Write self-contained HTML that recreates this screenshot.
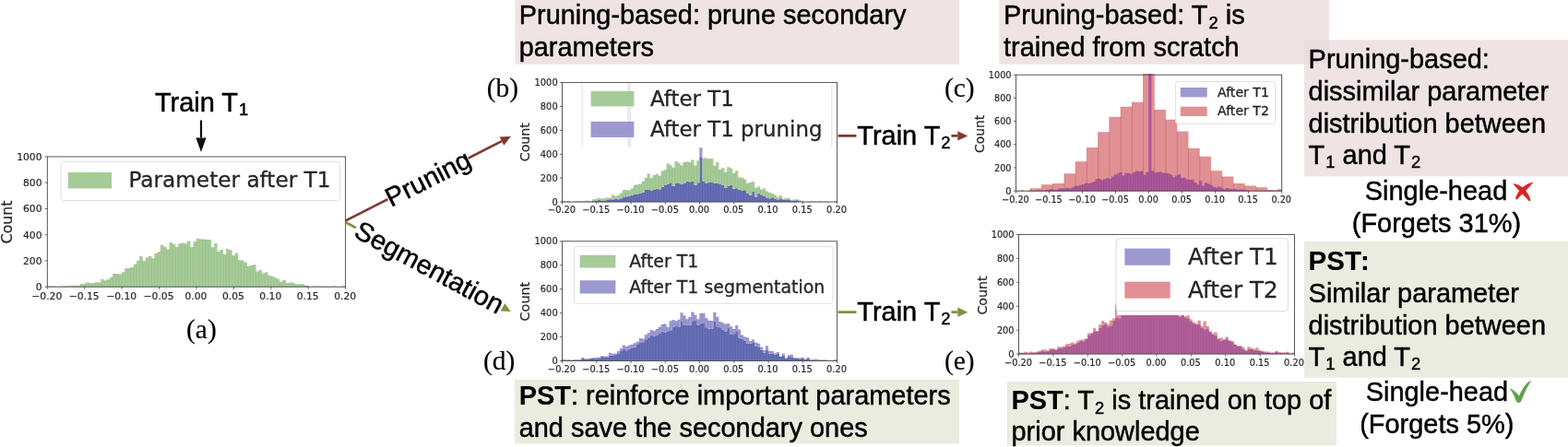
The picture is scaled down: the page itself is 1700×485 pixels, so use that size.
<!DOCTYPE html>
<html lang="en"><head><meta charset="utf-8"><title>PST vs pruning figure</title>
<style>html,body{margin:0;padding:0;background:#fff;}body{width:1700px;height:485px;overflow:hidden;}svg{display:block;}</style>
</head><body>
<svg width="1700" height="485" viewBox="0 0 1700 485">
<rect width="1700" height="485" fill="#fff"/>
<g id="chart-a">
<path d="M51.30 311.20V310.17H54.53V311.20ZM54.53 311.20V310.51H57.77V311.20ZM57.77 311.20V310.55H61.00V311.20ZM64.23 311.20V310.49H67.46V311.20ZM67.46 311.20V310.40H70.70V311.20ZM70.70 311.20V310.13H73.93V311.20ZM73.93 311.20V310.21H77.16V311.20ZM77.16 311.20V309.70H80.40V311.20ZM80.40 311.20V309.68H83.63V311.20ZM83.63 311.20V309.89H86.86V311.20ZM86.86 311.20V308.13H90.10V311.20ZM90.10 311.20V307.65H93.33V311.20ZM93.33 311.20V306.45H96.56V311.20ZM96.56 311.20V307.15H99.79V311.20ZM99.79 311.20V306.88H103.03V311.20ZM103.03 311.20V306.29H106.26V311.20ZM106.26 311.20V306.51H109.49V311.20ZM109.49 311.20V302.84H112.73V311.20ZM112.73 311.20V304.18H115.96V311.20ZM115.96 311.20V303.20H119.19V311.20ZM119.19 311.20V300.66H122.43V311.20ZM122.43 311.20V296.81H125.66V311.20ZM125.66 311.20V297.08H128.89V311.20ZM128.89 311.20V297.48H132.12V311.20ZM132.12 311.20V295.30H135.36V311.20ZM135.36 311.20V291.13H138.59V311.20ZM138.59 311.20V290.66H141.82V311.20ZM141.82 311.20V289.90H145.06V311.20ZM145.06 311.20V286.82H148.29V311.20ZM148.29 311.20V282.69H151.52V311.20ZM151.52 311.20V277.80H154.76V311.20ZM154.76 311.20V283.00H157.99V311.20ZM157.99 311.20V279.57H161.22V311.20ZM161.22 311.20V278.04H164.46V311.20ZM164.46 311.20V280.22H167.69V311.20ZM167.69 311.20V274.65H170.92V311.20ZM170.92 311.20V273.22H174.15V311.20ZM174.15 311.20V265.87H177.39V311.20ZM177.39 311.20V267.77H180.62V311.20ZM180.62 311.20V270.59H183.85V311.20ZM183.85 311.20V263.09H187.09V311.20ZM187.09 311.20V264.93H190.32V311.20ZM190.32 311.20V268.10H193.55V311.20ZM193.55 311.20V264.18H196.78V311.20ZM196.78 311.20V263.70H200.02V311.20ZM200.02 311.20V264.23H203.25V311.20ZM203.25 311.20V261.44H206.48V311.20ZM206.48 311.20V268.05H209.72V311.20ZM209.72 311.20V262.34H212.95V311.20ZM212.95 311.20V258.80H216.18V311.20ZM216.18 311.20V259.62H219.42V311.20ZM219.42 311.20V259.41H222.65V311.20ZM222.65 311.20V260.08H225.88V311.20ZM225.88 311.20V259.93H229.12V311.20ZM229.12 311.20V268.32H232.35V311.20ZM232.35 311.20V264.05H235.58V311.20ZM235.58 311.20V272.84H238.81V311.20ZM238.81 311.20V270.90H242.05V311.20ZM242.05 311.20V275.97H245.28V311.20ZM245.28 311.20V270.03H248.51V311.20ZM248.51 311.20V271.26H251.75V311.20ZM251.75 311.20V277.04H254.98V311.20ZM254.98 311.20V274.39H258.21V311.20ZM258.21 311.20V282.19H261.44V311.20ZM261.44 311.20V282.39H264.68V311.20ZM264.68 311.20V284.48H267.91V311.20ZM267.91 311.20V289.03H271.14V311.20ZM271.14 311.20V288.02H274.38V311.20ZM274.38 311.20V287.21H277.61V311.20ZM277.61 311.20V294.55H280.84V311.20ZM280.84 311.20V293.00H284.08V311.20ZM284.08 311.20V296.48H287.31V311.20ZM287.31 311.20V295.16H290.54V311.20ZM290.54 311.20V298.64H293.77V311.20ZM293.77 311.20V299.81H297.01V311.20ZM297.01 311.20V301.17H300.24V311.20ZM300.24 311.20V302.85H303.47V311.20ZM303.47 311.20V305.72H306.71V311.20ZM306.71 311.20V303.70H309.94V311.20ZM309.94 311.20V307.26H313.17V311.20ZM313.17 311.20V306.48H316.41V311.20ZM316.41 311.20V306.84H319.64V311.20ZM319.64 311.20V308.54H322.87V311.20ZM322.87 311.20V308.30H326.11V311.20ZM326.11 311.20V308.06H329.34V311.20ZM329.34 311.20V309.19H332.57V311.20ZM332.57 311.20V309.97H335.80V311.20ZM339.04 311.20V310.42H342.27V311.20ZM342.27 311.20V310.40H345.50V311.20ZM345.50 311.20V310.50H348.74V311.20ZM348.74 311.20V310.78H351.97V311.20ZM351.97 311.20V310.38H355.20V311.20ZM355.20 311.20V310.80H358.44V311.20ZM358.44 311.20V310.71H361.67V311.20ZM361.67 311.20V310.52H364.90V311.20ZM364.90 311.20V311.03H368.13V311.20ZM368.13 311.20V310.90H371.37V311.20ZM371.37 311.20V310.28H374.60V311.20Z" fill="rgb(167,203,152)"/>
<path d="M51.30 311.20V310.17M54.53 311.20V310.51M57.77 311.20V310.55M64.23 311.20V310.49M67.46 311.20V310.40M70.70 311.20V310.13M73.93 311.20V310.21M77.16 311.20V309.70M80.40 311.20V309.68M83.63 311.20V309.89M86.86 311.20V308.13M90.10 311.20V307.65M93.33 311.20V306.45M96.56 311.20V307.15M99.79 311.20V306.88M103.03 311.20V306.29M106.26 311.20V306.51M109.49 311.20V302.84M112.73 311.20V304.18M115.96 311.20V303.20M119.19 311.20V300.66M122.43 311.20V296.81M125.66 311.20V297.08M128.89 311.20V297.48M132.12 311.20V295.30M135.36 311.20V291.13M138.59 311.20V290.66M141.82 311.20V289.90M145.06 311.20V286.82M148.29 311.20V282.69M151.52 311.20V277.80M154.76 311.20V283.00M157.99 311.20V279.57M161.22 311.20V278.04M164.46 311.20V280.22M167.69 311.20V274.65M170.92 311.20V273.22M174.15 311.20V265.87M177.39 311.20V267.77M180.62 311.20V270.59M183.85 311.20V263.09M187.09 311.20V264.93M190.32 311.20V268.10M193.55 311.20V264.18M196.78 311.20V263.70M200.02 311.20V264.23M203.25 311.20V261.44M206.48 311.20V268.05M209.72 311.20V262.34M212.95 311.20V258.80M216.18 311.20V259.62M219.42 311.20V259.41M222.65 311.20V260.08M225.88 311.20V259.93M229.12 311.20V268.32M232.35 311.20V264.05M235.58 311.20V272.84M238.81 311.20V270.90M242.05 311.20V275.97M245.28 311.20V270.03M248.51 311.20V271.26M251.75 311.20V277.04M254.98 311.20V274.39M258.21 311.20V282.19M261.44 311.20V282.39M264.68 311.20V284.48M267.91 311.20V289.03M271.14 311.20V288.02M274.38 311.20V287.21M277.61 311.20V294.55M280.84 311.20V293.00M284.08 311.20V296.48M287.31 311.20V295.16M290.54 311.20V298.64M293.77 311.20V299.81M297.01 311.20V301.17M300.24 311.20V302.85M303.47 311.20V305.72M306.71 311.20V303.70M309.94 311.20V307.26M313.17 311.20V306.48M316.41 311.20V306.84M319.64 311.20V308.54M322.87 311.20V308.30M326.11 311.20V308.06M329.34 311.20V309.19M332.57 311.20V309.97M339.04 311.20V310.42M342.27 311.20V310.40M345.50 311.20V310.50M348.74 311.20V310.78M351.97 311.20V310.38M355.20 311.20V310.80M358.44 311.20V310.71M361.67 311.20V310.52M364.90 311.20V311.03M368.13 311.20V310.90M371.37 311.20V310.28" stroke="rgb(120,170,110)" stroke-opacity="0.55" stroke-width="0.5" fill="none"/>
<rect x="51.30" y="170.00" width="323.30" height="141.20" fill="none" stroke="#444" stroke-width="0.9"/>
<path d="M51.30 311.20v2.6M91.71 311.20v2.6M132.12 311.20v2.6M172.54 311.20v2.6M212.95 311.20v2.6M253.36 311.20v2.6M293.78 311.20v2.6M334.19 311.20v2.6M374.60 311.20v2.6M51.30 311.20h-2.6M51.30 282.96h-2.6M51.30 254.72h-2.6M51.30 226.48h-2.6M51.30 198.24h-2.6M51.30 170.00h-2.6" stroke="#444" stroke-width="0.8" fill="none"/>
<g font-family="'DejaVu Sans', 'Liberation Sans', sans-serif" font-size="10.75" fill="#262626" stroke="#262626" stroke-width="0.18">
<text x="50.80" y="324.60" text-anchor="middle">−0.20</text>
<text x="91.21" y="324.60" text-anchor="middle">−0.15</text>
<text x="131.62" y="324.60" text-anchor="middle">−0.10</text>
<text x="172.04" y="324.60" text-anchor="middle">−0.05</text>
<text x="212.45" y="324.60" text-anchor="middle">0.00</text>
<text x="252.86" y="324.60" text-anchor="middle">0.05</text>
<text x="293.28" y="324.60" text-anchor="middle">0.10</text>
<text x="333.69" y="324.60" text-anchor="middle">0.15</text>
<text x="374.10" y="324.60" text-anchor="middle">0.20</text>
<text x="45.50" y="315.12" text-anchor="end">0</text>
<text x="45.50" y="286.88" text-anchor="end">200</text>
<text x="45.50" y="258.64" text-anchor="end">400</text>
<text x="45.50" y="230.40" text-anchor="end">600</text>
<text x="45.50" y="202.16" text-anchor="end">800</text>
<text x="45.50" y="173.92" text-anchor="end">1000</text>
</g>
<text transform="translate(13.20 241.00) rotate(-90)" font-family="'DejaVu Sans', 'Liberation Sans', sans-serif" font-size="15.7" fill="#262626" stroke="#262626" stroke-width="0.21" text-anchor="middle">Count</text>
<rect x="66.00" y="175.60" width="302.70" height="41.90" rx="3" fill="#fff" fill-opacity="0.85" stroke="#dcdcdc" stroke-width="0.9"/>
<rect x="73.80" y="187.00" width="47.20" height="17.50" fill="rgb(167,203,152)"/>
<text x="139.40" y="203.29" font-family="'DejaVu Sans', 'Liberation Sans', sans-serif" font-size="23.2" fill="#262626" stroke="#262626" stroke-width="0.3">Parameter after T1</text>
</g>
<g id="chart-b">
<path d="M609.50 219.10V218.55H612.48V219.10ZM612.48 219.10V218.87H615.46V219.10ZM615.46 219.10V218.50H618.44V219.10ZM621.42 219.10V218.77H624.40V219.10ZM624.40 219.10V218.43H627.39V219.10ZM627.39 219.10V218.85H630.37V219.10ZM630.37 219.10V218.81H633.35V219.10ZM633.35 219.10V218.40H636.33V219.10ZM636.33 219.10V218.54H639.31V219.10ZM639.31 219.10V218.84H642.29V219.10ZM642.29 219.10V217.86H645.27V219.10ZM645.27 219.10V217.72H648.25V219.10ZM648.25 219.10V216.77H651.23V219.10ZM651.23 219.10V218.08H654.22V219.10ZM654.22 219.10V217.55H657.20V219.10ZM657.20 219.10V216.43H660.18V219.10ZM660.18 219.10V216.21H663.16V219.10ZM663.16 219.10V216.43H666.14V219.10ZM666.14 219.10V215.71H669.12V219.10ZM669.12 219.10V216.25H672.10V219.10ZM672.10 219.10V215.15H675.08V219.10ZM675.08 219.10V213.61H678.06V219.10ZM678.06 219.10V213.35H681.04V219.10ZM681.04 219.10V212.40H684.02V219.10ZM684.02 219.10V211.64H687.01V219.10ZM687.01 219.10V210.39H689.99V219.10ZM689.99 219.10V210.60H692.97V219.10ZM692.97 219.10V209.91H695.95V219.10ZM695.95 219.10V208.70H698.93V219.10ZM698.93 219.10V205.91H701.91V219.10ZM701.91 219.10V205.48H704.89V219.10ZM704.89 219.10V206.95H707.87V219.10ZM707.87 219.10V205.59H710.85V219.10ZM710.85 219.10V204.87H713.84V219.10ZM713.84 219.10V205.45H716.82V219.10ZM716.82 219.10V203.09H719.80V219.10ZM719.80 219.10V200.98H722.78V219.10ZM722.78 219.10V199.68H725.76V219.10ZM725.76 219.10V198.19H728.74V219.10ZM728.74 219.10V202.01H731.72V219.10ZM731.72 219.10V199.07H734.70V219.10ZM734.70 219.10V199.01H737.68V219.10ZM737.68 219.10V200.02H740.66V219.10ZM740.66 219.10V198.44H743.64V219.10ZM743.64 219.10V196.73H746.63V219.10ZM746.63 219.10V197.19H749.61V219.10ZM749.61 219.10V196.91H752.59V219.10ZM752.59 219.10V200.97H755.57V219.10ZM755.57 219.10V198.19H758.55V219.10ZM758.55 219.10V171.04H761.53V219.10ZM761.53 219.10V196.53H764.51V219.10ZM764.51 219.10V198.78H767.49V219.10ZM767.49 219.10V198.11H770.47V219.10ZM770.47 219.10V197.88H773.45V219.10ZM773.45 219.10V199.01H776.44V219.10ZM776.44 219.10V198.93H779.42V219.10ZM779.42 219.10V199.58H782.40V219.10ZM782.40 219.10V200.84H785.38V219.10ZM785.38 219.10V203.76H788.36V219.10ZM788.36 219.10V201.95H791.34V219.10ZM791.34 219.10V200.58H794.32V219.10ZM794.32 219.10V204.68H797.30V219.10ZM797.30 219.10V204.30H800.28V219.10ZM800.28 219.10V205.94H803.26V219.10ZM803.26 219.10V206.67H806.25V219.10ZM806.25 219.10V206.27H809.23V219.10ZM809.23 219.10V209.62H812.21V219.10ZM812.21 219.10V212.05H815.19V219.10ZM815.19 219.10V207.94H818.17V219.10ZM818.17 219.10V213.56H821.15V219.10ZM821.15 219.10V209.85H824.13V219.10ZM824.13 219.10V211.26H827.11V219.10ZM827.11 219.10V212.55H830.09V219.10ZM830.09 219.10V214.57H833.08V219.10ZM833.08 219.10V215.20H836.06V219.10ZM836.06 219.10V214.19H839.04V219.10ZM839.04 219.10V215.62H842.02V219.10ZM842.02 219.10V217.04H845.00V219.10ZM845.00 219.10V216.01H847.98V219.10ZM847.98 219.10V216.51H850.96V219.10ZM850.96 219.10V216.90H853.94V219.10ZM853.94 219.10V216.88H856.92V219.10ZM856.92 219.10V217.68H859.90V219.10ZM859.90 219.10V217.47H862.88V219.10ZM862.88 219.10V217.34H865.87V219.10ZM865.87 219.10V218.46H868.85V219.10ZM868.85 219.10V218.62H871.83V219.10ZM874.81 219.10V218.91H877.79V219.10ZM877.79 219.10V218.52H880.77V219.10ZM880.77 219.10V218.90H883.75V219.10ZM883.75 219.10V218.93H886.73V219.10ZM886.73 219.10V218.89H889.71V219.10ZM889.71 219.10V219.02H892.69V219.10ZM892.69 219.10V218.75H895.68V219.10ZM895.68 219.10V218.89H898.66V219.10ZM901.64 219.10V218.90H904.62V219.10ZM904.62 219.10V218.59H907.60V219.10Z" fill="rgb(102,111,181)"/>
<path d="M609.50 219.10V218.55M612.48 219.10V218.87M615.46 219.10V218.50M621.42 219.10V218.77M624.40 219.10V218.43M627.39 219.10V218.85M630.37 219.10V218.81M633.35 219.10V218.40M636.33 219.10V218.54M639.31 219.10V218.84M642.29 219.10V217.86M645.27 219.10V217.72M648.25 219.10V216.77M651.23 219.10V218.08M654.22 219.10V217.55M657.20 219.10V216.43M660.18 219.10V216.21M663.16 219.10V216.43M666.14 219.10V215.71M669.12 219.10V216.25M672.10 219.10V215.15M675.08 219.10V213.61M678.06 219.10V213.35M681.04 219.10V212.40M684.02 219.10V211.64M687.01 219.10V210.39M689.99 219.10V210.60M692.97 219.10V209.91M695.95 219.10V208.70M698.93 219.10V205.91M701.91 219.10V205.48M704.89 219.10V206.95M707.87 219.10V205.59M710.85 219.10V204.87M713.84 219.10V205.45M716.82 219.10V203.09M719.80 219.10V200.98M722.78 219.10V199.68M725.76 219.10V198.19M728.74 219.10V202.01M731.72 219.10V199.07M734.70 219.10V199.01M737.68 219.10V200.02M740.66 219.10V198.44M743.64 219.10V196.73M746.63 219.10V197.19M749.61 219.10V196.91M752.59 219.10V200.97M755.57 219.10V198.19M758.55 219.10V171.04M761.53 219.10V196.53M764.51 219.10V198.78M767.49 219.10V198.11M770.47 219.10V197.88M773.45 219.10V199.01M776.44 219.10V198.93M779.42 219.10V199.58M782.40 219.10V200.84M785.38 219.10V203.76M788.36 219.10V201.95M791.34 219.10V200.58M794.32 219.10V204.68M797.30 219.10V204.30M800.28 219.10V205.94M803.26 219.10V206.67M806.25 219.10V206.27M809.23 219.10V209.62M812.21 219.10V212.05M815.19 219.10V207.94M818.17 219.10V213.56M821.15 219.10V209.85M824.13 219.10V211.26M827.11 219.10V212.55M830.09 219.10V214.57M833.08 219.10V215.20M836.06 219.10V214.19M839.04 219.10V215.62M842.02 219.10V217.04M845.00 219.10V216.01M847.98 219.10V216.51M850.96 219.10V216.90M853.94 219.10V216.88M856.92 219.10V217.68M859.90 219.10V217.47M862.88 219.10V217.34M865.87 219.10V218.46M868.85 219.10V218.62M874.81 219.10V218.91M877.79 219.10V218.52M880.77 219.10V218.90M883.75 219.10V218.93M886.73 219.10V218.89M889.71 219.10V219.02M892.69 219.10V218.75M895.68 219.10V218.89M901.64 219.10V218.90M904.62 219.10V218.59" stroke="rgb(70,78,150)" stroke-opacity="0.55" stroke-width="0.5" fill="none"/>
<path d="M609.50 218.55V218.15H612.48V218.55ZM612.48 218.87V218.47H615.46V218.87ZM621.42 218.77V218.45H624.40V218.77ZM624.40 218.43V218.37H627.39V218.43ZM627.39 218.85V218.12H630.37V218.85ZM630.37 218.81V218.19H633.35V218.81ZM633.35 218.40V217.73H636.33V218.40ZM636.33 218.54V217.71H639.31V218.54ZM639.31 218.84V217.90H642.29V218.84ZM642.29 217.86V216.29H645.27V217.86ZM645.27 217.72V215.85H648.25V217.72ZM648.25 216.77V214.75H651.23V216.77ZM651.23 218.08V215.38H654.22V218.08ZM654.22 217.55V215.14H657.20V217.55ZM657.20 216.43V214.59H660.18V216.43ZM660.18 216.21V214.80H663.16V216.21ZM663.16 216.43V211.43H666.14V216.43ZM666.14 215.71V212.66H669.12V215.71ZM669.12 216.25V211.76H672.10V216.25ZM672.10 215.15V209.43H675.08V215.15ZM675.08 213.61V205.91H678.06V213.61ZM678.06 213.35V206.15H681.04V213.35ZM681.04 212.40V206.52H684.02V212.40ZM684.02 211.64V204.52H687.01V211.64ZM687.01 210.39V200.69H689.99V210.39ZM689.99 210.60V200.26H692.97V210.60ZM692.97 209.91V199.56H695.95V209.91ZM695.95 208.70V196.74H698.93V208.70ZM698.93 205.91V192.95H701.91V205.91ZM701.91 205.48V188.47H704.89V205.48ZM704.89 206.95V193.23H707.87V206.95ZM707.87 205.59V190.09H710.85V205.59ZM710.85 204.87V188.68H713.84V204.87ZM713.84 205.45V190.68H716.82V205.45ZM716.82 203.09V185.58H719.80V203.09ZM719.80 200.98V184.27H722.78V200.98ZM722.78 199.68V177.53H725.76V199.68ZM725.76 198.19V179.27H728.74V198.19ZM728.74 202.01V181.85H731.72V202.01ZM731.72 199.07V174.98H734.70V199.07ZM734.70 199.01V176.66H737.68V199.01ZM737.68 200.02V179.57H740.66V200.02ZM740.66 198.44V175.98H743.64V198.44ZM743.64 196.73V175.53H746.63V196.73ZM746.63 197.19V176.02H749.61V197.19ZM749.61 196.91V173.47H752.59V196.91ZM752.59 200.97V179.53H755.57V200.97ZM755.57 198.19V174.29H758.55V198.19ZM761.53 196.53V171.79H764.51V196.53ZM764.51 198.78V171.60H767.49V198.78ZM767.49 198.11V172.22H770.47V198.11ZM770.47 197.88V172.08H773.45V197.88ZM773.45 199.01V179.78H776.44V199.01ZM776.44 198.93V175.86H779.42V198.93ZM779.42 199.58V183.92H782.40V199.58ZM782.40 200.84V182.14H785.38V200.84ZM785.38 203.76V186.79H788.36V203.76ZM788.36 201.95V181.34H791.34V201.95ZM791.34 200.58V182.47H794.32V200.58ZM794.32 204.68V187.77H797.30V204.68ZM797.30 204.30V185.34H800.28V204.30ZM800.28 205.94V192.49H803.26V205.94ZM803.26 206.67V192.68H806.25V206.67ZM806.25 206.27V194.59H809.23V206.27ZM809.23 209.62V198.77H812.21V209.62ZM812.21 212.05V197.84H815.19V212.05ZM815.19 207.94V197.10H818.17V207.94ZM818.17 213.56V203.83H821.15V213.56ZM821.15 209.85V202.41H824.13V209.85ZM824.13 211.26V205.60H827.11V211.26ZM827.11 212.55V204.39H830.09V212.55ZM830.09 214.57V207.58H833.08V214.57ZM833.08 215.20V208.65H836.06V215.20ZM836.06 214.19V209.91H839.04V214.19ZM839.04 215.62V211.44H842.02V215.62ZM842.02 217.04V214.08H845.00V217.04ZM845.00 216.01V212.22H847.98V216.01ZM847.98 216.51V215.49H850.96V216.51ZM850.96 216.90V214.78H853.94V216.90ZM853.94 216.88V215.10H856.92V216.88ZM856.92 217.68V216.66H859.90V217.68ZM859.90 217.47V216.44H862.88V217.47ZM862.88 217.34V216.22H865.87V217.34ZM865.87 218.46V217.26H868.85V218.46ZM868.85 218.62V217.97H871.83V218.62ZM874.81 218.91V218.38H877.79V218.91ZM877.79 218.52V218.36H880.77V218.52ZM880.77 218.90V218.46H883.75V218.90ZM883.75 218.93V218.71H886.73V218.93ZM886.73 218.89V218.35H889.71V218.89ZM889.71 219.02V218.73H892.69V219.02ZM892.69 218.75V218.65H895.68V218.75ZM895.68 218.89V218.48H898.66V218.89ZM898.66 219.08V218.94H901.64V219.08ZM901.64 218.90V218.83H904.62V218.90ZM904.62 218.59V218.25H907.60V218.59Z" fill="rgb(167,203,152)"/>
<path d="M609.50 218.55V218.15M612.48 218.87V218.47M621.42 218.77V218.45M624.40 218.43V218.37M627.39 218.85V218.12M630.37 218.81V218.19M633.35 218.40V217.73M636.33 218.54V217.71M639.31 218.84V217.90M642.29 217.86V216.29M645.27 217.72V215.85M648.25 216.77V214.75M651.23 218.08V215.38M654.22 217.55V215.14M657.20 216.43V214.59M660.18 216.21V214.80M663.16 216.43V211.43M666.14 215.71V212.66M669.12 216.25V211.76M672.10 215.15V209.43M675.08 213.61V205.91M678.06 213.35V206.15M681.04 212.40V206.52M684.02 211.64V204.52M687.01 210.39V200.69M689.99 210.60V200.26M692.97 209.91V199.56M695.95 208.70V196.74M698.93 205.91V192.95M701.91 205.48V188.47M704.89 206.95V193.23M707.87 205.59V190.09M710.85 204.87V188.68M713.84 205.45V190.68M716.82 203.09V185.58M719.80 200.98V184.27M722.78 199.68V177.53M725.76 198.19V179.27M728.74 202.01V181.85M731.72 199.07V174.98M734.70 199.01V176.66M737.68 200.02V179.57M740.66 198.44V175.98M743.64 196.73V175.53M746.63 197.19V176.02M749.61 196.91V173.47M752.59 200.97V179.53M755.57 198.19V174.29M761.53 196.53V171.79M764.51 198.78V171.60M767.49 198.11V172.22M770.47 197.88V172.08M773.45 199.01V179.78M776.44 198.93V175.86M779.42 199.58V183.92M782.40 200.84V182.14M785.38 203.76V186.79M788.36 201.95V181.34M791.34 200.58V182.47M794.32 204.68V187.77M797.30 204.30V185.34M800.28 205.94V192.49M803.26 206.67V192.68M806.25 206.27V194.59M809.23 209.62V198.77M812.21 212.05V197.84M815.19 207.94V197.10M818.17 213.56V203.83M821.15 209.85V202.41M824.13 211.26V205.60M827.11 212.55V204.39M830.09 214.57V207.58M833.08 215.20V208.65M836.06 214.19V209.91M839.04 215.62V211.44M842.02 217.04V214.08M845.00 216.01V212.22M847.98 216.51V215.49M850.96 216.90V214.78M853.94 216.88V215.10M856.92 217.68V216.66M859.90 217.47V216.44M862.88 217.34V216.22M865.87 218.46V217.26M868.85 218.62V217.97M874.81 218.91V218.38M877.79 218.52V218.36M880.77 218.90V218.46M883.75 218.93V218.71M886.73 218.89V218.35M889.71 219.02V218.73M892.69 218.75V218.65M895.68 218.89V218.48M898.66 219.08V218.94M901.64 218.90V218.83M904.62 218.59V218.25" stroke="rgb(120,170,110)" stroke-opacity="0.55" stroke-width="0.5" fill="none"/>
<path d="M615.46 218.50V218.36H618.44V218.50ZM758.55 171.04V160.18H761.53V171.04Z" fill="rgb(156,153,209)"/>
<path d="M615.46 218.50V218.36M758.55 171.04V160.18" stroke="rgb(110,105,180)" stroke-opacity="0.55" stroke-width="0.5" fill="none"/>
<rect x="609.50" y="89.60" width="298.10" height="129.50" fill="none" stroke="#444" stroke-width="0.9"/>
<path d="M609.50 219.10v2.6M646.76 219.10v2.6M684.02 219.10v2.6M721.29 219.10v2.6M758.55 219.10v2.6M795.81 219.10v2.6M833.08 219.10v2.6M870.34 219.10v2.6M907.60 219.10v2.6M609.50 219.10h-2.6M609.50 193.20h-2.6M609.50 167.30h-2.6M609.50 141.40h-2.6M609.50 115.50h-2.6M609.50 89.60h-2.6" stroke="#444" stroke-width="0.8" fill="none"/>
<g font-family="'DejaVu Sans', 'Liberation Sans', sans-serif" font-size="9.9" fill="#262626" stroke="#262626" stroke-width="0.18">
<text x="609.00" y="231.20" text-anchor="middle">−0.20</text>
<text x="646.26" y="231.20" text-anchor="middle">−0.15</text>
<text x="683.52" y="231.20" text-anchor="middle">−0.10</text>
<text x="720.79" y="231.20" text-anchor="middle">−0.05</text>
<text x="758.05" y="231.20" text-anchor="middle">0.00</text>
<text x="795.31" y="231.20" text-anchor="middle">0.05</text>
<text x="832.58" y="231.20" text-anchor="middle">0.10</text>
<text x="869.84" y="231.20" text-anchor="middle">0.15</text>
<text x="907.10" y="231.20" text-anchor="middle">0.20</text>
<text x="604.70" y="222.71" text-anchor="end">0</text>
<text x="604.70" y="196.81" text-anchor="end">200</text>
<text x="604.70" y="170.91" text-anchor="end">400</text>
<text x="604.70" y="145.01" text-anchor="end">600</text>
<text x="604.70" y="119.11" text-anchor="end">800</text>
<text x="604.70" y="93.21" text-anchor="end">1000</text>
</g>
<text transform="translate(574.00 154.20) rotate(-90)" font-family="'DejaVu Sans', 'Liberation Sans', sans-serif" font-size="14.2" fill="#262626" stroke="#262626" stroke-width="0.21" text-anchor="middle">Count</text>
<rect x="630.7" y="90.2" width="271.8" height="69.5" fill="#fff" fill-opacity="0.93"/>
<rect x="679.8" y="90.2" width="4.7" height="69.5" fill="rgb(150,148,205)" fill-opacity="0.2"/>
<path d="M631.2 91V159.7M901.9 91V159.7" stroke="#e6e6ec" stroke-width="1.2" fill="none"/>
<rect x="640.60" y="98.90" width="46.80" height="16.50" fill="rgb(167,203,152)"/>
<text x="705.00" y="114.59" font-family="'DejaVu Sans', 'Liberation Sans', sans-serif" font-size="22.9" fill="#262626" stroke="#262626" stroke-width="0.3">After T1</text>
<rect x="640.60" y="131.90" width="46.80" height="17.10" fill="rgb(156,153,209)"/>
<text x="705.00" y="147.89" font-family="'DejaVu Sans', 'Liberation Sans', sans-serif" font-size="22.9" fill="#262626" stroke="#262626" stroke-width="0.3">After T1 pruning</text>
</g>
<g id="chart-d">
<path d="M609.50 391.60V390.93H612.48V391.60ZM612.48 391.60V390.83H615.46V391.60ZM615.46 391.60V390.61H618.44V391.60ZM618.44 391.60V390.84H621.42V391.60ZM621.42 391.60V390.52H624.40V391.60ZM624.40 391.60V390.62H627.39V391.60ZM627.39 391.60V390.49H630.37V391.60ZM630.37 391.60V389.10H633.35V391.60ZM633.35 391.60V390.11H636.33V391.60ZM636.33 391.60V389.56H639.31V391.60ZM639.31 391.60V389.07H642.29V391.60ZM642.29 391.60V388.98H645.27V391.60ZM645.27 391.60V389.15H648.25V391.60ZM648.25 391.60V388.71H651.23V391.60ZM651.23 391.60V386.72H654.22V391.60ZM654.22 391.60V387.29H657.20V391.60ZM657.20 391.60V387.85H660.18V391.60ZM660.18 391.60V385.63H663.16V391.60ZM663.16 391.60V385.42H666.14V391.60ZM666.14 391.60V384.70H669.12V391.60ZM669.12 391.60V384.03H672.10V391.60ZM672.10 391.60V380.27H675.08V391.60ZM675.08 391.60V378.50H678.06V391.60ZM678.06 391.60V380.17H681.04V391.60ZM681.04 391.60V378.49H684.02V391.60ZM684.02 391.60V377.22H687.01V391.60ZM687.01 391.60V376.59H689.99V391.60ZM689.99 391.60V373.90H692.97V391.60ZM692.97 391.60V371.42H695.95V391.60ZM695.95 391.60V371.22H698.93V391.60ZM698.93 391.60V368.27H701.91V391.60ZM701.91 391.60V366.29H704.89V391.60ZM704.89 391.60V363.86H707.87V391.60ZM707.87 391.60V364.43H710.85V391.60ZM710.85 391.60V363.48H713.84V391.60ZM713.84 391.60V361.58H716.82V391.60ZM716.82 391.60V359.71H719.80V391.60ZM719.80 391.60V360.78H722.78V391.60ZM722.78 391.60V359.32H725.76V391.60ZM725.76 391.60V358.16H728.74V391.60ZM728.74 391.60V354.76H731.72V391.60ZM731.72 391.60V354.06H734.70V391.60ZM734.70 391.60V354.59H737.68V391.60ZM737.68 391.60V348.83H740.66V391.60ZM740.66 391.60V352.92H743.64V391.60ZM743.64 391.60V352.71H746.63V391.60ZM746.63 391.60V352.86H749.61V391.60ZM749.61 391.60V348.23H752.59V391.60ZM752.59 391.60V347.89H755.57V391.60ZM755.57 391.60V352.57H758.55V391.60ZM758.55 391.60V350.39H761.53V391.60ZM761.53 391.60V350.23H764.51V391.60ZM764.51 391.60V355.15H767.49V391.60ZM767.49 391.60V356.55H770.47V391.60ZM770.47 391.60V356.56H773.45V391.60ZM773.45 391.60V348.52H776.44V391.60ZM776.44 391.60V354.29H779.42V391.60ZM779.42 391.60V355.29H782.40V391.60ZM782.40 391.60V357.48H785.38V391.60ZM785.38 391.60V359.38H788.36V391.60ZM788.36 391.60V355.98H791.34V391.60ZM791.34 391.60V362.92H794.32V391.60ZM794.32 391.60V362.16H797.30V391.60ZM797.30 391.60V359.93H800.28V391.60ZM800.28 391.60V366.56H803.26V391.60ZM803.26 391.60V367.73H806.25V391.60ZM806.25 391.60V369.78H809.23V391.60ZM809.23 391.60V372.79H812.21V391.60ZM812.21 391.60V372.77H815.19V391.60ZM815.19 391.60V372.05H818.17V391.60ZM818.17 391.60V375.95H821.15V391.60ZM821.15 391.60V376.89H824.13V391.60ZM824.13 391.60V380.00H827.11V391.60ZM827.11 391.60V382.65H830.09V391.60ZM830.09 391.60V379.66H833.08V391.60ZM833.08 391.60V383.70H836.06V391.60ZM836.06 391.60V383.64H839.04V391.60ZM839.04 391.60V384.44H842.02V391.60ZM842.02 391.60V383.51H845.00V391.60ZM845.00 391.60V386.89H847.98V391.60ZM847.98 391.60V385.76H850.96V391.60ZM850.96 391.60V388.63H853.94V391.60ZM853.94 391.60V387.09H856.92V391.60ZM856.92 391.60V387.37H859.90V391.60ZM859.90 391.60V388.41H862.88V391.60ZM862.88 391.60V388.74H865.87V391.60ZM865.87 391.60V389.17H868.85V391.60ZM868.85 391.60V389.05H871.83V391.60ZM871.83 391.60V390.10H874.81V391.60ZM874.81 391.60V388.76H877.79V391.60ZM877.79 391.60V390.41H880.77V391.60ZM880.77 391.60V390.40H883.75V391.60ZM883.75 391.60V390.56H886.73V391.60ZM886.73 391.60V390.60H889.71V391.60ZM889.71 391.60V390.96H892.69V391.60ZM892.69 391.60V390.90H895.68V391.60ZM895.68 391.60V391.45H898.66V391.60ZM901.64 391.60V391.41H904.62V391.60ZM904.62 391.60V390.93H907.60V391.60Z" fill="rgb(102,111,181)"/>
<path d="M609.50 391.60V390.93M612.48 391.60V390.83M615.46 391.60V390.61M618.44 391.60V390.84M621.42 391.60V390.52M624.40 391.60V390.62M627.39 391.60V390.49M630.37 391.60V389.10M633.35 391.60V390.11M636.33 391.60V389.56M639.31 391.60V389.07M642.29 391.60V388.98M645.27 391.60V389.15M648.25 391.60V388.71M651.23 391.60V386.72M654.22 391.60V387.29M657.20 391.60V387.85M660.18 391.60V385.63M663.16 391.60V385.42M666.14 391.60V384.70M669.12 391.60V384.03M672.10 391.60V380.27M675.08 391.60V378.50M678.06 391.60V380.17M681.04 391.60V378.49M684.02 391.60V377.22M687.01 391.60V376.59M689.99 391.60V373.90M692.97 391.60V371.42M695.95 391.60V371.22M698.93 391.60V368.27M701.91 391.60V366.29M704.89 391.60V363.86M707.87 391.60V364.43M710.85 391.60V363.48M713.84 391.60V361.58M716.82 391.60V359.71M719.80 391.60V360.78M722.78 391.60V359.32M725.76 391.60V358.16M728.74 391.60V354.76M731.72 391.60V354.06M734.70 391.60V354.59M737.68 391.60V348.83M740.66 391.60V352.92M743.64 391.60V352.71M746.63 391.60V352.86M749.61 391.60V348.23M752.59 391.60V347.89M755.57 391.60V352.57M758.55 391.60V350.39M761.53 391.60V350.23M764.51 391.60V355.15M767.49 391.60V356.55M770.47 391.60V356.56M773.45 391.60V348.52M776.44 391.60V354.29M779.42 391.60V355.29M782.40 391.60V357.48M785.38 391.60V359.38M788.36 391.60V355.98M791.34 391.60V362.92M794.32 391.60V362.16M797.30 391.60V359.93M800.28 391.60V366.56M803.26 391.60V367.73M806.25 391.60V369.78M809.23 391.60V372.79M812.21 391.60V372.77M815.19 391.60V372.05M818.17 391.60V375.95M821.15 391.60V376.89M824.13 391.60V380.00M827.11 391.60V382.65M830.09 391.60V379.66M833.08 391.60V383.70M836.06 391.60V383.64M839.04 391.60V384.44M842.02 391.60V383.51M845.00 391.60V386.89M847.98 391.60V385.76M850.96 391.60V388.63M853.94 391.60V387.09M856.92 391.60V387.37M859.90 391.60V388.41M862.88 391.60V388.74M865.87 391.60V389.17M868.85 391.60V389.05M871.83 391.60V390.10M874.81 391.60V388.76M877.79 391.60V390.41M880.77 391.60V390.40M883.75 391.60V390.56M886.73 391.60V390.60M889.71 391.60V390.96M892.69 391.60V390.90M895.68 391.60V391.45M901.64 391.60V391.41M904.62 391.60V390.93" stroke="rgb(70,78,150)" stroke-opacity="0.55" stroke-width="0.5" fill="none"/>
<path d="" fill="rgb(167,203,152)"/>
<path d="" stroke="rgb(120,170,110)" stroke-opacity="0.55" stroke-width="0.5" fill="none"/>
<path d="M609.50 390.93V389.83H612.48V390.93ZM612.48 390.83V390.38H615.46V390.83ZM615.46 390.61V390.19H618.44V390.61ZM621.42 390.52V389.90H624.40V390.52ZM624.40 390.62V390.14H627.39V390.62ZM627.39 390.49V390.08H630.37V390.49ZM630.37 389.10V388.02H633.35V389.10ZM633.35 390.11V389.22H636.33V390.11ZM636.33 389.56V389.27H639.31V389.56ZM639.31 389.07V388.63H642.29V389.07ZM642.29 388.98V388.30H645.27V388.98ZM645.27 389.15V387.88H648.25V389.15ZM648.25 388.71V387.40H651.23V388.71ZM651.23 386.72V386.25H654.22V386.72ZM654.22 387.29V386.77H657.20V387.29ZM657.20 387.85V386.19H660.18V387.85ZM660.18 385.63V382.73H663.16V385.63ZM663.16 385.42V383.76H666.14V385.42ZM666.14 384.70V383.45H669.12V384.70ZM669.12 384.03V381.07H672.10V384.03ZM672.10 380.27V377.84H675.08V380.27ZM675.08 378.50V374.52H678.06V378.50ZM678.06 380.17V375.69H681.04V380.17ZM681.04 378.49V374.62H684.02V378.49ZM684.02 377.22V373.72H687.01V377.22ZM687.01 376.59V372.13H689.99V376.59ZM689.99 373.90V370.66H692.97V373.90ZM692.97 371.42V367.05H695.95V371.42ZM695.95 371.22V367.38H698.93V371.22ZM698.93 368.27V363.30H701.91V368.27ZM701.91 366.29V361.37H704.89V366.29ZM704.89 363.86V357.96H707.87V363.86ZM707.87 364.43V358.96H710.85V364.43ZM710.85 363.48V357.03H713.84V363.48ZM713.84 361.58V354.77H716.82V361.58ZM716.82 359.71V352.10H719.80V359.71ZM719.80 360.78V351.43H722.78V360.78ZM722.78 359.32V354.95H725.76V359.32ZM725.76 358.16V348.36H728.74V358.16ZM728.74 354.76V347.09H731.72V354.76ZM731.72 354.06V348.20H734.70V354.06ZM734.70 354.59V346.76H737.68V354.59ZM737.68 348.83V339.27H740.66V348.83ZM740.66 352.92V342.30H743.64V352.92ZM743.64 352.71V346.27H746.63V352.71ZM746.63 352.86V343.90H749.61V352.86ZM749.61 348.23V338.48H752.59V348.23ZM752.59 347.89V341.87H755.57V347.89ZM755.57 352.57V346.34H758.55V352.57ZM758.55 350.39V340.12H761.53V350.39ZM761.53 350.23V339.72H764.51V350.23ZM764.51 355.15V345.01H767.49V355.15ZM767.49 356.55V347.80H770.47V356.55ZM770.47 356.56V348.06H773.45V356.56ZM773.45 348.52V338.83H776.44V348.52ZM776.44 354.29V343.71H779.42V354.29ZM779.42 355.29V348.90H782.40V355.29ZM782.40 357.48V350.19H785.38V357.48ZM785.38 359.38V351.52H788.36V359.38ZM788.36 355.98V351.11H791.34V355.98ZM791.34 362.92V354.27H794.32V362.92ZM794.32 362.16V356.96H797.30V362.16ZM797.30 359.93V353.02H800.28V359.93ZM800.28 366.56V357.47H803.26V366.56ZM803.26 367.73V363.62H806.25V367.73ZM806.25 369.78V365.60H809.23V369.78ZM809.23 372.79V366.28H812.21V372.79ZM812.21 372.77V369.92H815.19V372.77ZM815.19 372.05V368.16H818.17V372.05ZM818.17 375.95V371.62H821.15V375.95ZM821.15 376.89V372.85H824.13V376.89ZM824.13 380.00V376.52H827.11V380.00ZM827.11 382.65V380.02H830.09V382.65ZM830.09 379.66V375.27H833.08V379.66ZM833.08 383.70V380.73H836.06V383.70ZM836.06 383.64V381.03H839.04V383.64ZM839.04 384.44V383.14H842.02V384.44ZM842.02 383.51V382.08H845.00V383.51ZM845.00 386.89V386.79H847.98V386.89ZM847.98 385.76V383.60H850.96V385.76ZM850.96 388.63V388.57H853.94V388.63ZM853.94 387.09V385.14H856.92V387.09ZM856.92 387.37V384.83H859.90V387.37ZM859.90 388.41V387.98H862.88V388.41ZM862.88 388.74V388.14H865.87V388.74ZM865.87 389.17V388.52H868.85V389.17ZM868.85 389.05V387.67H871.83V389.05ZM871.83 390.10V389.77H874.81V390.10ZM874.81 388.76V387.85H877.79V388.76ZM877.79 390.41V389.98H880.77V390.41ZM880.77 390.40V389.86H883.75V390.40ZM883.75 390.56V389.46H886.73V390.56ZM886.73 390.60V390.36H889.71V390.60ZM889.71 390.96V390.41H892.69V390.96ZM892.69 390.90V390.27H895.68V390.90ZM895.68 391.45V390.84H898.66V391.45ZM898.66 391.60V391.46H901.64V391.60ZM901.64 391.41V390.71H904.62V391.41ZM904.62 390.93V390.26H907.60V390.93Z" fill="rgb(156,153,209)"/>
<path d="M609.50 390.93V389.83M612.48 390.83V390.38M615.46 390.61V390.19M621.42 390.52V389.90M624.40 390.62V390.14M627.39 390.49V390.08M630.37 389.10V388.02M633.35 390.11V389.22M636.33 389.56V389.27M639.31 389.07V388.63M642.29 388.98V388.30M645.27 389.15V387.88M648.25 388.71V387.40M651.23 386.72V386.25M654.22 387.29V386.77M657.20 387.85V386.19M660.18 385.63V382.73M663.16 385.42V383.76M666.14 384.70V383.45M669.12 384.03V381.07M672.10 380.27V377.84M675.08 378.50V374.52M678.06 380.17V375.69M681.04 378.49V374.62M684.02 377.22V373.72M687.01 376.59V372.13M689.99 373.90V370.66M692.97 371.42V367.05M695.95 371.22V367.38M698.93 368.27V363.30M701.91 366.29V361.37M704.89 363.86V357.96M707.87 364.43V358.96M710.85 363.48V357.03M713.84 361.58V354.77M716.82 359.71V352.10M719.80 360.78V351.43M722.78 359.32V354.95M725.76 358.16V348.36M728.74 354.76V347.09M731.72 354.06V348.20M734.70 354.59V346.76M737.68 348.83V339.27M740.66 352.92V342.30M743.64 352.71V346.27M746.63 352.86V343.90M749.61 348.23V338.48M752.59 347.89V341.87M755.57 352.57V346.34M758.55 350.39V340.12M761.53 350.23V339.72M764.51 355.15V345.01M767.49 356.55V347.80M770.47 356.56V348.06M773.45 348.52V338.83M776.44 354.29V343.71M779.42 355.29V348.90M782.40 357.48V350.19M785.38 359.38V351.52M788.36 355.98V351.11M791.34 362.92V354.27M794.32 362.16V356.96M797.30 359.93V353.02M800.28 366.56V357.47M803.26 367.73V363.62M806.25 369.78V365.60M809.23 372.79V366.28M812.21 372.77V369.92M815.19 372.05V368.16M818.17 375.95V371.62M821.15 376.89V372.85M824.13 380.00V376.52M827.11 382.65V380.02M830.09 379.66V375.27M833.08 383.70V380.73M836.06 383.64V381.03M839.04 384.44V383.14M842.02 383.51V382.08M845.00 386.89V386.79M847.98 385.76V383.60M850.96 388.63V388.57M853.94 387.09V385.14M856.92 387.37V384.83M859.90 388.41V387.98M862.88 388.74V388.14M865.87 389.17V388.52M868.85 389.05V387.67M871.83 390.10V389.77M874.81 388.76V387.85M877.79 390.41V389.98M880.77 390.40V389.86M883.75 390.56V389.46M886.73 390.60V390.36M889.71 390.96V390.41M892.69 390.90V390.27M895.68 391.45V390.84M898.66 391.60V391.46M901.64 391.41V390.71M904.62 390.93V390.26" stroke="rgb(110,105,180)" stroke-opacity="0.55" stroke-width="0.5" fill="none"/>
<rect x="609.50" y="261.80" width="298.10" height="129.80" fill="none" stroke="#444" stroke-width="0.9"/>
<path d="M609.50 391.60v2.6M646.76 391.60v2.6M684.02 391.60v2.6M721.29 391.60v2.6M758.55 391.60v2.6M795.81 391.60v2.6M833.08 391.60v2.6M870.34 391.60v2.6M907.60 391.60v2.6M609.50 391.60h-2.6M609.50 365.64h-2.6M609.50 339.68h-2.6M609.50 313.72h-2.6M609.50 287.76h-2.6M609.50 261.80h-2.6" stroke="#444" stroke-width="0.8" fill="none"/>
<g font-family="'DejaVu Sans', 'Liberation Sans', sans-serif" font-size="9.9" fill="#262626" stroke="#262626" stroke-width="0.18">
<text x="609.00" y="404.00" text-anchor="middle">−0.20</text>
<text x="646.26" y="404.00" text-anchor="middle">−0.15</text>
<text x="683.52" y="404.00" text-anchor="middle">−0.10</text>
<text x="720.79" y="404.00" text-anchor="middle">−0.05</text>
<text x="758.05" y="404.00" text-anchor="middle">0.00</text>
<text x="795.31" y="404.00" text-anchor="middle">0.05</text>
<text x="832.58" y="404.00" text-anchor="middle">0.10</text>
<text x="869.84" y="404.00" text-anchor="middle">0.15</text>
<text x="907.10" y="404.00" text-anchor="middle">0.20</text>
<text x="604.70" y="395.21" text-anchor="end">0</text>
<text x="604.70" y="369.25" text-anchor="end">200</text>
<text x="604.70" y="343.29" text-anchor="end">400</text>
<text x="604.70" y="317.33" text-anchor="end">600</text>
<text x="604.70" y="291.37" text-anchor="end">800</text>
<text x="604.70" y="265.41" text-anchor="end">1000</text>
</g>
<text transform="translate(574.00 327.10) rotate(-90)" font-family="'DejaVu Sans', 'Liberation Sans', sans-serif" font-size="14.4" fill="#262626" stroke="#262626" stroke-width="0.21" text-anchor="middle">Count</text>
<rect x="622.50" y="267.50" width="280.50" height="61.90" rx="3" fill="#fff" fill-opacity="0.85" stroke="#dcdcdc" stroke-width="0.9"/>
<rect x="628.70" y="276.80" width="38.70" height="13.80" fill="rgb(167,203,152)"/>
<text x="682.30" y="289.86" font-family="'DejaVu Sans', 'Liberation Sans', sans-serif" font-size="18.95" fill="#262626" stroke="#262626" stroke-width="0.3">After T1</text>
<rect x="628.70" y="304.20" width="38.70" height="14.30" fill="rgb(156,153,209)"/>
<text x="682.30" y="317.51" font-family="'DejaVu Sans', 'Liberation Sans', sans-serif" font-size="18.95" fill="#262626" stroke="#262626" stroke-width="0.3">After T1 segmentation</text>
</g>
<g id="chart-c">
<path d="M1117.26 207.20V204.30H1129.49V207.20ZM1129.49 207.20V200.14H1141.72V207.20ZM1141.72 207.20V198.88H1153.95V207.20ZM1153.95 207.20V188.30H1166.18V207.20ZM1166.18 207.20V175.32H1178.41V207.20ZM1178.41 207.20V159.95H1190.64V207.20ZM1190.64 207.20V143.32H1202.87V207.20ZM1202.87 207.20V126.69H1215.11V207.20ZM1215.11 207.20V115.85H1227.34V207.20ZM1227.34 207.20V110.68H1239.57V207.20ZM1239.57 207.20V80.00H1251.80V207.20ZM1251.80 207.20V119.00H1264.03V207.20ZM1264.03 207.20V129.71H1276.26V207.20ZM1276.26 207.20V142.44H1288.49V207.20ZM1288.49 207.20V160.71H1300.72V207.20ZM1300.72 207.20V169.65H1312.95V207.20ZM1312.95 207.20V185.28H1325.19V207.20ZM1325.19 207.20V191.45H1337.42V207.20ZM1337.42 207.20V198.88H1349.65V207.20ZM1349.65 207.20V201.40H1361.88V207.20ZM1361.88 207.20V203.29H1374.11V207.20ZM1374.11 207.20V205.94H1386.34V207.20ZM1386.34 207.20V204.93H1389.70V207.20Z" fill="rgb(225,144,148)"/>
<path d="M1117.26 207.20V204.30M1129.49 207.20V200.14M1141.72 207.20V198.88M1153.95 207.20V188.30M1166.18 207.20V175.32M1178.41 207.20V159.95M1190.64 207.20V143.32M1202.87 207.20V126.69M1215.11 207.20V115.85M1227.34 207.20V110.68M1239.57 207.20V80.00M1251.80 207.20V119.00M1264.03 207.20V129.71M1276.26 207.20V142.44M1288.49 207.20V160.71M1300.72 207.20V169.65M1312.95 207.20V185.28M1325.19 207.20V191.45M1337.42 207.20V198.88M1349.65 207.20V201.40M1361.88 207.20V203.29M1374.11 207.20V205.94M1386.34 207.20V204.93" stroke="rgb(190,105,112)" stroke-opacity="0.7" stroke-width="0.8" fill="none"/>
<path d="M1101.40 207.20V206.67H1104.28V207.20ZM1104.28 207.20V206.97H1107.17V207.20ZM1107.17 207.20V206.48H1110.05V207.20ZM1112.93 207.20V206.88H1115.82V207.20ZM1115.82 207.20V206.55H1118.70V207.20ZM1118.70 207.20V206.96H1121.58V207.20ZM1121.58 207.20V206.91H1124.46V207.20ZM1124.46 207.20V206.52H1127.35V207.20ZM1127.35 207.20V206.65H1130.23V207.20ZM1130.23 207.20V206.95H1133.11V207.20ZM1133.11 207.20V205.99H1136.00V207.20ZM1136.00 207.20V205.85H1138.88V207.20ZM1138.88 207.20V204.93H1141.76V207.20ZM1141.76 207.20V206.21H1144.64V207.20ZM1144.64 207.20V205.70H1147.53V207.20ZM1147.53 207.20V204.60H1150.41V207.20ZM1150.41 207.20V204.39H1153.29V207.20ZM1153.29 207.20V204.60H1156.18V207.20ZM1156.18 207.20V203.90H1159.06V207.20ZM1159.06 207.20V204.42H1161.94V207.20ZM1161.94 207.20V203.36H1164.83V207.20ZM1164.83 207.20V201.85H1167.71V207.20ZM1167.71 207.20V201.61H1170.59V207.20ZM1170.59 207.20V200.68H1173.48V207.20ZM1173.48 207.20V199.94H1176.36V207.20ZM1176.36 207.20V198.73H1179.24V207.20ZM1179.24 207.20V198.93H1182.12V207.20ZM1182.12 207.20V198.26H1185.01V207.20ZM1185.01 207.20V197.09H1187.89V207.20ZM1187.89 207.20V194.36H1190.77V207.20ZM1190.77 207.20V193.95H1193.66V207.20ZM1193.66 207.20V195.38H1196.54V207.20ZM1196.54 207.20V194.05H1199.42V207.20ZM1199.42 207.20V193.35H1202.31V207.20ZM1202.31 207.20V193.92H1205.19V207.20ZM1205.19 207.20V191.62H1208.07V207.20ZM1208.07 207.20V189.57H1210.95V207.20ZM1210.95 207.20V188.31H1213.84V207.20ZM1213.84 207.20V186.85H1216.72V207.20ZM1216.72 207.20V190.57H1219.60V207.20ZM1219.60 207.20V187.71H1222.49V207.20ZM1222.49 207.20V187.65H1225.37V207.20ZM1225.37 207.20V188.64H1228.25V207.20ZM1228.25 207.20V187.10H1231.13V207.20ZM1231.13 207.20V185.43H1234.02V207.20ZM1234.02 207.20V185.88H1236.90V207.20ZM1236.90 207.20V185.61H1239.78V207.20ZM1239.78 207.20V189.56H1242.67V207.20ZM1242.67 207.20V186.85H1245.55V207.20ZM1245.55 207.20V80.00H1248.43V207.20ZM1248.43 207.20V185.24H1251.32V207.20ZM1251.32 207.20V187.43H1254.20V207.20ZM1254.20 207.20V186.78H1257.08V207.20ZM1257.08 207.20V186.55H1259.97V207.20ZM1259.97 207.20V187.65H1262.85V207.20ZM1262.85 207.20V187.58H1265.73V207.20ZM1265.73 207.20V188.21H1268.61V207.20ZM1268.61 207.20V189.43H1271.50V207.20ZM1271.50 207.20V192.27H1274.38V207.20ZM1274.38 207.20V190.51H1277.26V207.20ZM1277.26 207.20V189.18H1280.15V207.20ZM1280.15 207.20V193.17H1283.03V207.20ZM1283.03 207.20V192.80H1285.91V207.20ZM1285.91 207.20V194.40H1288.80V207.20ZM1288.80 207.20V195.10H1291.68V207.20ZM1291.68 207.20V194.72H1294.56V207.20ZM1294.56 207.20V197.98H1297.44V207.20ZM1297.44 207.20V200.34H1300.33V207.20ZM1300.33 207.20V196.34H1303.21V207.20ZM1303.21 207.20V201.81H1306.09V207.20ZM1306.09 207.20V198.20H1308.98V207.20ZM1308.98 207.20V199.57H1311.86V207.20ZM1311.86 207.20V200.83H1314.74V207.20ZM1314.74 207.20V202.79H1317.62V207.20ZM1317.62 207.20V203.40H1320.51V207.20ZM1320.51 207.20V202.42H1323.39V207.20ZM1323.39 207.20V203.82H1326.27V207.20ZM1326.27 207.20V205.20H1329.16V207.20ZM1329.16 207.20V204.19H1332.04V207.20ZM1332.04 207.20V204.68H1334.92V207.20ZM1334.92 207.20V205.06H1337.81V207.20ZM1337.81 207.20V205.04H1340.69V207.20ZM1340.69 207.20V205.82H1343.57V207.20ZM1343.57 207.20V205.61H1346.45V207.20ZM1346.45 207.20V205.49H1349.34V207.20ZM1349.34 207.20V206.57H1352.22V207.20ZM1352.22 207.20V206.74H1355.10V207.20ZM1357.99 207.20V207.01H1360.87V207.20ZM1360.87 207.20V206.63H1363.75V207.20ZM1363.75 207.20V207.00H1366.64V207.20ZM1366.64 207.20V207.04H1369.52V207.20ZM1369.52 207.20V207.00H1372.40V207.20ZM1372.40 207.20V207.12H1375.29V207.20ZM1375.29 207.20V206.86H1378.17V207.20ZM1378.17 207.20V207.00H1381.05V207.20ZM1383.93 207.20V207.01H1386.82V207.20ZM1386.82 207.20V206.71H1389.70V207.20Z" fill="rgb(169,87,150)"/>
<path d="M1101.40 207.20V206.67M1104.28 207.20V206.97M1107.17 207.20V206.48M1112.93 207.20V206.88M1115.82 207.20V206.55M1118.70 207.20V206.96M1121.58 207.20V206.91M1124.46 207.20V206.52M1127.35 207.20V206.65M1130.23 207.20V206.95M1133.11 207.20V205.99M1136.00 207.20V205.85M1138.88 207.20V204.93M1141.76 207.20V206.21M1144.64 207.20V205.70M1147.53 207.20V204.60M1150.41 207.20V204.39M1153.29 207.20V204.60M1156.18 207.20V203.90M1159.06 207.20V204.42M1161.94 207.20V203.36M1164.83 207.20V201.85M1167.71 207.20V201.61M1170.59 207.20V200.68M1173.48 207.20V199.94M1176.36 207.20V198.73M1179.24 207.20V198.93M1182.12 207.20V198.26M1185.01 207.20V197.09M1187.89 207.20V194.36M1190.77 207.20V193.95M1193.66 207.20V195.38M1196.54 207.20V194.05M1199.42 207.20V193.35M1202.31 207.20V193.92M1205.19 207.20V191.62M1208.07 207.20V189.57M1210.95 207.20V188.31M1213.84 207.20V186.85M1216.72 207.20V190.57M1219.60 207.20V187.71M1222.49 207.20V187.65M1225.37 207.20V188.64M1228.25 207.20V187.10M1231.13 207.20V185.43M1234.02 207.20V185.88M1236.90 207.20V185.61M1239.78 207.20V189.56M1242.67 207.20V186.85M1245.55 207.20V80.00M1248.43 207.20V185.24M1251.32 207.20V187.43M1254.20 207.20V186.78M1257.08 207.20V186.55M1259.97 207.20V187.65M1262.85 207.20V187.58M1265.73 207.20V188.21M1268.61 207.20V189.43M1271.50 207.20V192.27M1274.38 207.20V190.51M1277.26 207.20V189.18M1280.15 207.20V193.17M1283.03 207.20V192.80M1285.91 207.20V194.40M1288.80 207.20V195.10M1291.68 207.20V194.72M1294.56 207.20V197.98M1297.44 207.20V200.34M1300.33 207.20V196.34M1303.21 207.20V201.81M1306.09 207.20V198.20M1308.98 207.20V199.57M1311.86 207.20V200.83M1314.74 207.20V202.79M1317.62 207.20V203.40M1320.51 207.20V202.42M1323.39 207.20V203.82M1326.27 207.20V205.20M1329.16 207.20V204.19M1332.04 207.20V204.68M1334.92 207.20V205.06M1337.81 207.20V205.04M1340.69 207.20V205.82M1343.57 207.20V205.61M1346.45 207.20V205.49M1349.34 207.20V206.57M1352.22 207.20V206.74M1357.99 207.20V207.01M1360.87 207.20V206.63M1363.75 207.20V207.00M1366.64 207.20V207.04M1369.52 207.20V207.00M1372.40 207.20V207.12M1375.29 207.20V206.86M1378.17 207.20V207.00M1383.93 207.20V207.01M1386.82 207.20V206.71" stroke="rgb(135,60,120)" stroke-opacity="0.55" stroke-width="0.5" fill="none"/>
<rect x="1101.40" y="81.20" width="288.30" height="126.00" fill="none" stroke="#444" stroke-width="0.9"/>
<path d="M1101.40 207.20v2.6M1137.44 207.20v2.6M1173.48 207.20v2.6M1209.51 207.20v2.6M1245.55 207.20v2.6M1281.59 207.20v2.6M1317.62 207.20v2.6M1353.66 207.20v2.6M1389.70 207.20v2.6M1101.40 207.20h-2.6M1101.40 182.00h-2.6M1101.40 156.80h-2.6M1101.40 131.60h-2.6M1101.40 106.40h-2.6M1101.40 81.20h-2.6" stroke="#444" stroke-width="0.8" fill="none"/>
<g font-family="'DejaVu Sans', 'Liberation Sans', sans-serif" font-size="9.7" fill="#262626" stroke="#262626" stroke-width="0.18">
<text x="1100.90" y="219.60" text-anchor="middle">−0.20</text>
<text x="1136.94" y="219.60" text-anchor="middle">−0.15</text>
<text x="1172.98" y="219.60" text-anchor="middle">−0.10</text>
<text x="1209.01" y="219.60" text-anchor="middle">−0.05</text>
<text x="1245.05" y="219.60" text-anchor="middle">0.00</text>
<text x="1281.09" y="219.60" text-anchor="middle">0.05</text>
<text x="1317.12" y="219.60" text-anchor="middle">0.10</text>
<text x="1353.16" y="219.60" text-anchor="middle">0.15</text>
<text x="1389.20" y="219.60" text-anchor="middle">0.20</text>
<text x="1096.50" y="210.74" text-anchor="end">0</text>
<text x="1096.50" y="185.54" text-anchor="end">200</text>
<text x="1096.50" y="160.34" text-anchor="end">400</text>
<text x="1096.50" y="135.14" text-anchor="end">600</text>
<text x="1096.50" y="109.94" text-anchor="end">800</text>
<text x="1096.50" y="84.74" text-anchor="end">1000</text>
</g>
<text transform="translate(1067.40 145.40) rotate(-90)" font-family="'DejaVu Sans', 'Liberation Sans', sans-serif" font-size="13.8" fill="#262626" stroke="#262626" stroke-width="0.21" text-anchor="middle">Count</text>
<rect x="1274.60" y="88.50" width="107.90" height="45.70" rx="2.5" fill="#fff" fill-opacity="0.85" stroke="#dcdcdc" stroke-width="0.9"/>
<rect x="1279.80" y="95.00" width="28.90" height="10.40" fill="rgb(156,153,209)"/>
<text x="1320.00" y="104.78" font-family="'DejaVu Sans', 'Liberation Sans', sans-serif" font-size="14.1" fill="#262626" stroke="#262626" stroke-width="0.3">After T1</text>
<rect x="1279.80" y="115.70" width="28.90" height="10.30" fill="rgb(225,144,148)"/>
<text x="1320.00" y="125.43" font-family="'DejaVu Sans', 'Liberation Sans', sans-serif" font-size="14.1" fill="#262626" stroke="#262626" stroke-width="0.3">After T2</text>
</g>
<g id="chart-e">
<path d="M1104.50 384.10V383.10H1107.49V384.10ZM1107.49 384.10V383.02H1110.48V384.10ZM1110.48 384.10V382.47H1113.47V384.10ZM1113.47 384.10V383.20H1116.46V384.10ZM1116.46 384.10V382.23H1119.45V384.10ZM1119.45 384.10V383.09H1122.44V384.10ZM1122.44 384.10V382.20H1125.43V384.10ZM1125.43 384.10V381.95H1128.42V384.10ZM1128.42 384.10V380.92H1131.41V384.10ZM1131.41 384.10V381.15H1134.40V384.10ZM1134.40 384.10V381.08H1137.39V384.10ZM1137.39 384.10V379.33H1140.38V384.10ZM1140.38 384.10V378.54H1143.37V384.10ZM1143.37 384.10V379.51H1146.36V384.10ZM1146.36 384.10V377.74H1149.35V384.10ZM1149.35 384.10V377.85H1152.34V384.10ZM1152.34 384.10V376.42H1155.33V384.10ZM1155.33 384.10V375.32H1158.32V384.10ZM1158.32 384.10V375.76H1161.31V384.10ZM1161.31 384.10V373.21H1164.30V384.10ZM1164.30 384.10V373.19H1167.29V384.10ZM1167.29 384.10V371.78H1170.28V384.10ZM1170.28 384.10V369.70H1173.27V384.10ZM1173.27 384.10V370.18H1176.26V384.10ZM1176.26 384.10V367.97H1179.25V384.10ZM1179.25 384.10V363.88H1182.24V384.10ZM1182.24 384.10V361.49H1185.23V384.10ZM1185.23 384.10V359.32H1188.22V384.10ZM1188.22 384.10V359.59H1191.21V384.10ZM1191.21 384.10V355.82H1194.20V384.10ZM1194.20 384.10V352.43H1197.19V384.10ZM1197.19 384.10V351.23H1200.18V384.10ZM1200.18 384.10V354.14H1203.17V384.10ZM1203.17 384.10V353.17H1206.16V384.10ZM1206.16 384.10V347.43H1209.15V384.10ZM1209.15 384.10V344.18H1212.14V384.10ZM1212.14 384.10V345.23H1215.13V384.10ZM1215.13 384.10V341.87H1218.12V384.10ZM1218.12 384.10V342.09H1221.11V384.10ZM1221.11 384.10V341.02H1224.10V384.10ZM1224.10 384.10V339.89H1227.09V384.10ZM1227.09 384.10V339.22H1230.08V384.10ZM1230.08 384.10V339.93H1233.07V384.10ZM1233.07 384.10V334.40H1236.06V384.10ZM1236.06 384.10V335.99H1239.05V384.10ZM1239.05 384.10V338.95H1242.04V384.10ZM1242.04 384.10V338.16H1245.03V384.10ZM1245.03 384.10V339.74H1248.02V384.10ZM1248.02 384.10V336.34H1251.01V384.10ZM1251.01 384.10V340.59H1254.00V384.10ZM1254.00 384.10V338.26H1256.99V384.10ZM1256.99 384.10V336.07H1259.98V384.10ZM1259.98 384.10V336.79H1262.97V384.10ZM1262.97 384.10V337.19H1265.96V384.10ZM1265.96 384.10V341.58H1268.95V384.10ZM1268.95 384.10V338.04H1271.94V384.10ZM1271.94 384.10V340.82H1274.93V384.10ZM1274.93 384.10V338.69H1277.92V384.10ZM1277.92 384.10V343.18H1280.91V384.10ZM1280.91 384.10V340.37H1283.90V384.10ZM1283.90 384.10V344.34H1286.89V384.10ZM1286.89 384.10V345.16H1289.88V384.10ZM1289.88 384.10V348.97H1292.87V384.10ZM1292.87 384.10V350.63H1295.86V384.10ZM1295.86 384.10V352.29H1298.85V384.10ZM1298.85 384.10V351.55H1301.84V384.10ZM1301.84 384.10V355.94H1304.83V384.10ZM1304.83 384.10V357.19H1307.82V384.10ZM1307.82 384.10V356.93H1310.81V384.10ZM1310.81 384.10V359.85H1313.80V384.10ZM1313.80 384.10V362.85H1316.79V384.10ZM1316.79 384.10V363.81H1319.78V384.10ZM1319.78 384.10V367.87H1322.77V384.10ZM1322.77 384.10V369.55H1325.76V384.10ZM1325.76 384.10V368.58H1328.75V384.10ZM1328.75 384.10V367.31H1331.74V384.10ZM1331.74 384.10V369.71H1334.73V384.10ZM1334.73 384.10V370.58H1337.72V384.10ZM1337.72 384.10V373.90H1340.71V384.10ZM1340.71 384.10V376.07H1343.70V384.10ZM1343.70 384.10V375.61H1346.69V384.10ZM1346.69 384.10V378.47H1349.68V384.10ZM1349.68 384.10V380.53H1352.67V384.10ZM1352.67 384.10V378.69H1355.66V384.10ZM1355.66 384.10V378.94H1358.65V384.10ZM1358.65 384.10V379.76H1361.64V384.10ZM1361.64 384.10V379.77H1364.63V384.10ZM1364.63 384.10V380.71H1367.62V384.10ZM1367.62 384.10V381.33H1370.61V384.10ZM1370.61 384.10V382.35H1373.60V384.10ZM1373.60 384.10V382.17H1376.59V384.10ZM1376.59 384.10V382.86H1379.58V384.10ZM1379.58 384.10V382.69H1382.57V384.10ZM1382.57 384.10V381.97H1385.56V384.10ZM1385.56 384.10V382.78H1388.55V384.10ZM1388.55 384.10V382.85H1391.54V384.10ZM1391.54 384.10V383.32H1394.53V384.10ZM1394.53 384.10V382.33H1397.52V384.10ZM1397.52 384.10V383.86H1400.51V384.10ZM1400.51 384.10V383.59H1403.50V384.10Z" fill="rgb(176,95,152)"/>
<path d="M1104.50 384.10V383.10M1107.49 384.10V383.02M1110.48 384.10V382.47M1113.47 384.10V383.20M1116.46 384.10V382.23M1119.45 384.10V383.09M1122.44 384.10V382.20M1125.43 384.10V381.95M1128.42 384.10V380.92M1131.41 384.10V381.15M1134.40 384.10V381.08M1137.39 384.10V379.33M1140.38 384.10V378.54M1143.37 384.10V379.51M1146.36 384.10V377.74M1149.35 384.10V377.85M1152.34 384.10V376.42M1155.33 384.10V375.32M1158.32 384.10V375.76M1161.31 384.10V373.21M1164.30 384.10V373.19M1167.29 384.10V371.78M1170.28 384.10V369.70M1173.27 384.10V370.18M1176.26 384.10V367.97M1179.25 384.10V363.88M1182.24 384.10V361.49M1185.23 384.10V359.32M1188.22 384.10V359.59M1191.21 384.10V355.82M1194.20 384.10V352.43M1197.19 384.10V351.23M1200.18 384.10V354.14M1203.17 384.10V353.17M1206.16 384.10V347.43M1209.15 384.10V344.18M1212.14 384.10V345.23M1215.13 384.10V341.87M1218.12 384.10V342.09M1221.11 384.10V341.02M1224.10 384.10V339.89M1227.09 384.10V339.22M1230.08 384.10V339.93M1233.07 384.10V334.40M1236.06 384.10V335.99M1239.05 384.10V338.95M1242.04 384.10V338.16M1245.03 384.10V339.74M1248.02 384.10V336.34M1251.01 384.10V340.59M1254.00 384.10V338.26M1256.99 384.10V336.07M1259.98 384.10V336.79M1262.97 384.10V337.19M1265.96 384.10V341.58M1268.95 384.10V338.04M1271.94 384.10V340.82M1274.93 384.10V338.69M1277.92 384.10V343.18M1280.91 384.10V340.37M1283.90 384.10V344.34M1286.89 384.10V345.16M1289.88 384.10V348.97M1292.87 384.10V350.63M1295.86 384.10V352.29M1298.85 384.10V351.55M1301.84 384.10V355.94M1304.83 384.10V357.19M1307.82 384.10V356.93M1310.81 384.10V359.85M1313.80 384.10V362.85M1316.79 384.10V363.81M1319.78 384.10V367.87M1322.77 384.10V369.55M1325.76 384.10V368.58M1328.75 384.10V367.31M1331.74 384.10V369.71M1334.73 384.10V370.58M1337.72 384.10V373.90M1340.71 384.10V376.07M1343.70 384.10V375.61M1346.69 384.10V378.47M1349.68 384.10V380.53M1352.67 384.10V378.69M1355.66 384.10V378.94M1358.65 384.10V379.76M1361.64 384.10V379.77M1364.63 384.10V380.71M1367.62 384.10V381.33M1370.61 384.10V382.35M1373.60 384.10V382.17M1376.59 384.10V382.86M1379.58 384.10V382.69M1382.57 384.10V381.97M1385.56 384.10V382.78M1388.55 384.10V382.85M1391.54 384.10V383.32M1394.53 384.10V382.33M1397.52 384.10V383.86M1400.51 384.10V383.59" stroke="rgb(150,72,140)" stroke-opacity="0.5" stroke-width="0.5" fill="none"/>
<path d="" fill="rgb(156,153,209)"/>
<path d="" stroke="rgb(110,105,180)" stroke-opacity="0.55" stroke-width="0.5" fill="none"/>
<path d="M1104.50 383.10V382.48H1107.49V383.10ZM1107.49 383.02V382.74H1110.48V383.02ZM1110.48 382.47V381.69H1113.47V382.47ZM1113.47 383.20V382.46H1116.46V383.20ZM1116.46 382.23V381.47H1119.45V382.23ZM1119.45 383.09V382.26H1122.44V383.09ZM1122.44 382.20V381.68H1125.43V382.20ZM1125.43 381.95V380.82H1128.42V381.95ZM1128.42 380.92V379.44H1131.41V380.92ZM1131.41 381.15V379.32H1134.40V381.15ZM1134.40 381.08V380.51H1137.39V381.08ZM1137.39 379.33V378.32H1140.38V379.33ZM1140.38 378.54V377.89H1143.37V378.54ZM1143.37 379.51V379.19H1146.36V379.51ZM1146.36 377.74V376.14H1149.35V377.74ZM1149.35 377.85V376.30H1152.34V377.85ZM1152.34 376.42V375.54H1155.33V376.42ZM1155.33 375.32V373.36H1158.32V375.32ZM1158.32 375.76V372.80H1161.31V375.76ZM1161.31 373.21V371.38H1164.30V373.21ZM1164.30 373.19V372.59H1167.29V373.19ZM1167.29 371.78V369.66H1170.28V371.78ZM1170.28 369.70V368.40H1173.27V369.70ZM1173.27 370.18V368.39H1176.26V370.18ZM1176.26 367.97V367.22H1179.25V367.97ZM1179.25 363.88V361.46H1182.24V363.88ZM1182.24 361.49V360.90H1185.23V361.49ZM1185.23 359.32V355.87H1188.22V359.32ZM1188.22 359.59V358.90H1191.21V359.59ZM1191.21 355.82V352.27H1194.20V355.82ZM1194.20 352.43V348.14H1197.19V352.43ZM1197.19 351.23V349.64H1200.18V351.23ZM1200.18 354.14V351.86H1203.17V354.14ZM1203.17 353.17V347.38H1206.16V353.17ZM1206.16 347.43V345.49H1209.15V347.43ZM1209.15 344.18V328.98H1212.14V344.18ZM1212.14 345.23V337.08H1215.13V345.23ZM1215.13 341.87V341.13H1218.12V341.87ZM1218.12 342.09V339.84H1221.11V342.09ZM1221.11 341.02V340.69H1224.10V341.02ZM1224.10 339.89V339.59H1227.09V339.89ZM1227.09 339.22V335.79H1230.08V339.22ZM1230.08 339.93V338.25H1233.07V339.93ZM1233.07 334.40V332.68H1236.06V334.40ZM1236.06 335.99V335.49H1239.05V335.99ZM1239.05 338.95V338.54H1242.04V338.95ZM1242.04 338.16V334.34H1245.03V338.16ZM1245.03 339.74V339.16H1248.02V339.74ZM1248.02 336.34V334.62H1251.01V336.34ZM1251.01 340.59V338.50H1254.00V340.59ZM1254.00 338.26V337.59H1256.99V338.26ZM1256.99 336.07V335.14H1259.98V336.07ZM1259.98 336.79V334.75H1262.97V336.79ZM1262.97 337.19V336.48H1265.96V337.19ZM1265.96 341.58V340.22H1268.95V341.58ZM1268.95 338.04V332.19H1271.94V338.04ZM1271.94 340.82V338.50H1274.93V340.82ZM1274.93 338.69V335.06H1277.92V338.69ZM1277.92 343.18V342.40H1280.91V343.18ZM1280.91 340.37V336.13H1283.90V340.37ZM1283.90 344.34V343.29H1286.89V344.34ZM1286.89 345.16V342.34H1289.88V345.16ZM1289.88 348.97V346.61H1292.87V348.97ZM1292.87 350.63V349.59H1295.86V350.63ZM1295.86 352.29V350.66H1298.85V352.29ZM1298.85 351.55V347.70H1301.84V351.55ZM1301.84 355.94V353.87H1304.83V355.94ZM1304.83 357.19V348.58H1307.82V357.19ZM1307.82 356.93V353.82H1310.81V356.93ZM1310.81 359.85V359.57H1313.80V359.85ZM1313.80 362.85V361.57H1316.79V362.85ZM1316.79 363.81V360.52H1319.78V363.81ZM1319.78 367.87V367.10H1322.77V367.87ZM1322.77 369.55V366.22H1325.76V369.55ZM1325.76 368.58V367.98H1328.75V368.58ZM1328.75 367.31V365.58H1331.74V367.31ZM1331.74 369.71V369.20H1334.73V369.71ZM1334.73 370.58V370.29H1337.72V370.58ZM1337.72 373.90V373.47H1340.71V373.90ZM1340.71 376.07V375.00H1343.70V376.07ZM1343.70 375.61V375.09H1346.69V375.61ZM1346.69 378.47V376.99H1349.68V378.47ZM1349.68 380.53V379.38H1352.67V380.53ZM1352.67 378.69V376.14H1355.66V378.69ZM1355.66 378.94V377.75H1358.65V378.94ZM1358.65 379.76V378.42H1361.64V379.76ZM1361.64 379.77V377.23H1364.63V379.77ZM1364.63 380.71V380.05H1367.62V380.71ZM1367.62 381.33V380.69H1370.61V381.33ZM1370.61 382.35V381.53H1373.60V382.35ZM1373.60 382.17V381.59H1376.59V382.17ZM1376.59 382.86V382.54H1379.58V382.86ZM1379.58 382.69V382.39H1382.57V382.69ZM1382.57 381.97V380.78H1385.56V381.97ZM1385.56 382.78V382.05H1388.55V382.78ZM1388.55 382.85V382.47H1391.54V382.85ZM1391.54 383.32V382.23H1394.53V383.32ZM1394.53 382.33V381.75H1397.52V382.33ZM1397.52 383.86V383.27H1400.51V383.86ZM1400.51 383.59V382.60H1403.50V383.59Z" fill="rgb(225,144,148)"/>
<path d="M1104.50 383.10V382.48M1107.49 383.02V382.74M1110.48 382.47V381.69M1113.47 383.20V382.46M1116.46 382.23V381.47M1119.45 383.09V382.26M1122.44 382.20V381.68M1125.43 381.95V380.82M1128.42 380.92V379.44M1131.41 381.15V379.32M1134.40 381.08V380.51M1137.39 379.33V378.32M1140.38 378.54V377.89M1143.37 379.51V379.19M1146.36 377.74V376.14M1149.35 377.85V376.30M1152.34 376.42V375.54M1155.33 375.32V373.36M1158.32 375.76V372.80M1161.31 373.21V371.38M1164.30 373.19V372.59M1167.29 371.78V369.66M1170.28 369.70V368.40M1173.27 370.18V368.39M1176.26 367.97V367.22M1179.25 363.88V361.46M1182.24 361.49V360.90M1185.23 359.32V355.87M1188.22 359.59V358.90M1191.21 355.82V352.27M1194.20 352.43V348.14M1197.19 351.23V349.64M1200.18 354.14V351.86M1203.17 353.17V347.38M1206.16 347.43V345.49M1209.15 344.18V328.98M1212.14 345.23V337.08M1215.13 341.87V341.13M1218.12 342.09V339.84M1221.11 341.02V340.69M1224.10 339.89V339.59M1227.09 339.22V335.79M1230.08 339.93V338.25M1233.07 334.40V332.68M1236.06 335.99V335.49M1239.05 338.95V338.54M1242.04 338.16V334.34M1245.03 339.74V339.16M1248.02 336.34V334.62M1251.01 340.59V338.50M1254.00 338.26V337.59M1256.99 336.07V335.14M1259.98 336.79V334.75M1262.97 337.19V336.48M1265.96 341.58V340.22M1268.95 338.04V332.19M1271.94 340.82V338.50M1274.93 338.69V335.06M1277.92 343.18V342.40M1280.91 340.37V336.13M1283.90 344.34V343.29M1286.89 345.16V342.34M1289.88 348.97V346.61M1292.87 350.63V349.59M1295.86 352.29V350.66M1298.85 351.55V347.70M1301.84 355.94V353.87M1304.83 357.19V348.58M1307.82 356.93V353.82M1310.81 359.85V359.57M1313.80 362.85V361.57M1316.79 363.81V360.52M1319.78 367.87V367.10M1322.77 369.55V366.22M1325.76 368.58V367.98M1328.75 367.31V365.58M1331.74 369.71V369.20M1334.73 370.58V370.29M1337.72 373.90V373.47M1340.71 376.07V375.00M1343.70 375.61V375.09M1346.69 378.47V376.99M1349.68 380.53V379.38M1352.67 378.69V376.14M1355.66 378.94V377.75M1358.65 379.76V378.42M1361.64 379.77V377.23M1364.63 380.71V380.05M1367.62 381.33V380.69M1370.61 382.35V381.53M1373.60 382.17V381.59M1376.59 382.86V382.54M1379.58 382.69V382.39M1382.57 381.97V380.78M1385.56 382.78V382.05M1388.55 382.85V382.47M1391.54 383.32V382.23M1394.53 382.33V381.75M1397.52 383.86V383.27M1400.51 383.59V382.60" stroke="rgb(190,105,112)" stroke-opacity="0.55" stroke-width="0.5" fill="none"/>
<rect x="1209.5" y="256" width="188" height="86.0" fill="#fff"/>
<rect x="1208.9" y="330.6" width="2.0" height="12" fill="rgb(225,144,148)"/>
<rect x="1104.50" y="254.40" width="299.00" height="129.70" fill="none" stroke="#444" stroke-width="0.9"/>
<path d="M1104.50 384.10v2.6M1141.88 384.10v2.6M1179.25 384.10v2.6M1216.62 384.10v2.6M1254.00 384.10v2.6M1291.38 384.10v2.6M1328.75 384.10v2.6M1366.12 384.10v2.6M1403.50 384.10v2.6M1104.50 384.10h-2.6M1104.50 358.16h-2.6M1104.50 332.22h-2.6M1104.50 306.28h-2.6M1104.50 280.34h-2.6M1104.50 254.40h-2.6" stroke="#444" stroke-width="0.8" fill="none"/>
<g font-family="'DejaVu Sans', 'Liberation Sans', sans-serif" font-size="9.8" fill="#262626" stroke="#262626" stroke-width="0.18">
<text x="1104.00" y="396.60" text-anchor="middle">−0.20</text>
<text x="1141.38" y="396.60" text-anchor="middle">−0.15</text>
<text x="1178.75" y="396.60" text-anchor="middle">−0.10</text>
<text x="1216.12" y="396.60" text-anchor="middle">−0.05</text>
<text x="1253.50" y="396.60" text-anchor="middle">0.00</text>
<text x="1290.88" y="396.60" text-anchor="middle">0.05</text>
<text x="1328.25" y="396.60" text-anchor="middle">0.10</text>
<text x="1365.62" y="396.60" text-anchor="middle">0.15</text>
<text x="1403.00" y="396.60" text-anchor="middle">0.20</text>
<text x="1099.60" y="387.68" text-anchor="end">0</text>
<text x="1099.60" y="361.74" text-anchor="end">200</text>
<text x="1099.60" y="335.80" text-anchor="end">400</text>
<text x="1099.60" y="309.86" text-anchor="end">600</text>
<text x="1099.60" y="283.92" text-anchor="end">800</text>
<text x="1099.60" y="257.98" text-anchor="end">1000</text>
</g>
<text transform="translate(1069.90 320.50) rotate(-90)" font-family="'DejaVu Sans', 'Liberation Sans', sans-serif" font-size="14.2" fill="#262626" stroke="#262626" stroke-width="0.21" text-anchor="middle">Count</text>
<rect x="1210.10" y="258.70" width="186.40" height="79.00" rx="4" fill="#fff" fill-opacity="0.85" stroke="#d6d6d6" stroke-width="0.9"/>
<rect x="1219.40" y="269.60" width="49.30" height="18.20" fill="rgb(156,153,209)"/>
<text x="1288.00" y="286.70" font-family="'DejaVu Sans', 'Liberation Sans', sans-serif" font-size="24.6" fill="#262626" stroke="#262626" stroke-width="0.3">After T1</text>
<rect x="1219.40" y="305.70" width="49.30" height="18.00" fill="rgb(225,144,148)"/>
<text x="1288.00" y="322.69" font-family="'DejaVu Sans', 'Liberation Sans', sans-serif" font-size="24.6" fill="#262626" stroke="#262626" stroke-width="0.3">After T2</text>
</g>
<rect x="1414" y="380" width="286" height="30" fill="#fff"/>
<rect x="558.4" y="0" width="481.8" height="69.7" fill="rgb(235,220,221)" fill-opacity="0.8"/>
<rect x="1083.3" y="0" width="357.5" height="69.7" fill="rgb(235,220,221)" fill-opacity="0.8"/>
<rect x="1414" y="43.3" width="286" height="148.0" fill="rgb(235,220,221)" fill-opacity="0.8"/>
<rect x="558.1" y="411.8" width="482.1" height="69.7" fill="rgb(227,231,214)" fill-opacity="0.8"/>
<rect x="1092" y="413.9" width="357" height="69.3" fill="rgb(227,231,214)" fill-opacity="0.8"/>
<rect x="1414" y="262" width="286" height="147.7" fill="rgb(227,231,214)" fill-opacity="0.8"/>
<g font-family="'Liberation Sans', Arial, Helvetica, sans-serif" font-size="28.95" fill="#000" stroke="#000" stroke-width="0.45">
<text x="562.7" y="26.4" text-anchor="start" >Pruning-based: prune secondary</text>
<text x="562.7" y="60.8" text-anchor="start" >parameters</text>
<text x="1088.0" y="26.4" text-anchor="start" >Pruning-based: T<tspan font-size="18.4" dy="4.1" dx="1">2</tspan><tspan dy="-4.1" font-size="28.95"> is</tspan></text>
<text x="1088.0" y="60.8" text-anchor="start" >trained from scratch</text>
<text x="1418.6" y="73.5" text-anchor="start" >Pruning-based:</text>
<text x="1418.6" y="108.6" text-anchor="start" >dissimilar parameter</text>
<text x="1418.6" y="143.7" text-anchor="start" >distribution between</text>
<text x="1418.6" y="178.3" text-anchor="start" >T<tspan font-size="18.4" dy="4.1" dx="1">1</tspan><tspan dy="-4.1" font-size="28.95"> and T</tspan><tspan font-size="18.4" dy="4.1" dx="1">2</tspan><tspan dy="-4.1" font-size="28.95"></tspan></text>
<text x="1479.8" y="217.1" text-anchor="start" >Single-head</text>
<text x="1465.8" y="252.2" text-anchor="start" >(Forgets 31%)</text>
<text x="1418.6" y="293.3" text-anchor="start" ><tspan font-weight="bold" stroke-width="0.1" font-size="29.5">PST<tspan dx="2.3">:</tspan></tspan></text>
<text x="1418.6" y="328.4" text-anchor="start" >Similar parameter</text>
<text x="1418.6" y="363.0" text-anchor="start" >distribution between</text>
<text x="1418.6" y="397.2" text-anchor="start" >T<tspan font-size="18.4" dy="4.1" dx="1">1</tspan><tspan dy="-4.1" font-size="28.95"> and T</tspan><tspan font-size="18.4" dy="4.1" dx="1">2</tspan><tspan dy="-4.1" font-size="28.95"></tspan></text>
<text x="1480.7" y="434.5" text-anchor="start" >Single-head</text>
<text x="1474.2" y="469.5" text-anchor="start" >(Forgets 5%)</text>
<text x="562.7" y="439.0" text-anchor="start" ><tspan font-weight="bold" stroke-width="0.1">PST</tspan>: reinforce important parameters</text>
<text x="562.7" y="473.7" text-anchor="start" >and save the secondary ones</text>
<text x="1096.5" y="444.4" text-anchor="start" ><tspan font-weight="bold" stroke-width="0.1">PST</tspan>: T<tspan font-size="18.4" dy="4.1" dx="1">2</tspan><tspan dy="-4.1" font-size="28.95"> is trained on top of</tspan></text>
<text x="1096.5" y="478.2" text-anchor="start" >prior knowledge</text>
<text x="168" y="121.2" text-anchor="start" >Train T<tspan font-size="18.4" dy="4.1" dx="1">1</tspan><tspan dy="-4.1" font-size="28.95"></tspan></text>
</g>
<g font-family="'Liberation Serif', 'Times New Roman', serif" font-size="29.5" fill="#000" stroke="#000" stroke-width="0.15">
<text x="202.0" y="366.7">(a)</text>
<text x="527.8" y="104.5">(b)</text>
<text x="1023.9" y="104.5">(c)</text>
<text x="523.9" y="400.6">(d)</text>
<text x="1023.9" y="400.6">(e)</text>
</g>
<path d="M218.00 130.50L218.00 149.50" stroke="#111" stroke-width="2.2" fill="none"/>
<path d="M218.00 165.00L212.40 149.50L223.60 149.50Z" fill="#111"/>
<path d="M374.40 239.60L544.00 153.10" stroke="rgb(128,57,48)" stroke-width="2.7" fill="none"/>
<path d="M553.80 148.10L546.36 157.73L541.64 148.47Z" fill="rgb(128,57,48)"/>
<g transform="translate(464.10 193.85) rotate(-27.02)">
<rect x="-49.00" y="-15.00" width="98.00" height="30" fill="#fff"/>
<text x="0.00" y="9.6" text-anchor="middle" font-family="'Liberation Sans', Arial, Helvetica, sans-serif" font-size="28.95" fill="#000" stroke="#000" stroke-width="0.45">Pruning</text>
</g>
<path d="M374.40 241.00L544.13 332.86" stroke="rgb(122,148,68)" stroke-width="2.7" fill="none"/>
<path d="M553.80 338.10L541.65 337.44L546.60 328.29Z" fill="rgb(122,148,68)"/>
<g transform="translate(464.10 289.55) rotate(28.42)">
<rect x="-89.00" y="-15.00" width="181.00" height="30" fill="#fff"/>
<text x="1.50" y="9.6" text-anchor="middle" font-family="'Liberation Sans', Arial, Helvetica, sans-serif" font-size="28.95" fill="#000" stroke="#000" stroke-width="0.45">Segmentation</text>
</g>
<path d="M908.60 147.40L1038.30 147.40" stroke="rgb(128,57,48)" stroke-width="2.7" fill="none"/>
<path d="M1049.30 147.40L1038.30 152.60L1038.30 142.20Z" fill="rgb(128,57,48)"/>
<g transform="translate(978.95 147.40) rotate(0.00)">
<rect x="-50.50" y="-15.00" width="103.00" height="30" fill="#fff"/>
<text x="1.00" y="9.6" text-anchor="middle" font-family="'Liberation Sans', Arial, Helvetica, sans-serif" font-size="28.95" fill="#000" stroke="#000" stroke-width="0.45">Train T<tspan font-size="18.4" dy="4.1" dx="1">2</tspan><tspan dy="-4.1" font-size="28.95"></tspan></text>
</g>
<path d="M908.60 338.70L1038.30 338.70" stroke="rgb(122,148,68)" stroke-width="2.7" fill="none"/>
<path d="M1049.30 338.70L1038.30 343.90L1038.30 333.50Z" fill="rgb(122,148,68)"/>
<g transform="translate(978.95 338.70) rotate(0.00)">
<rect x="-50.50" y="-15.00" width="103.00" height="30" fill="#fff"/>
<text x="1.00" y="9.6" text-anchor="middle" font-family="'Liberation Sans', Arial, Helvetica, sans-serif" font-size="28.95" fill="#000" stroke="#000" stroke-width="0.45">Train T<tspan font-size="18.4" dy="4.1" dx="1">2</tspan><tspan dy="-4.1" font-size="28.95"></tspan></text>
</g>
<path d="M 1640.95 199.50 C 1647.26 200.24 1655.79 204.84 1659.27 217.45 L 1658.09 218.12 C 1654.67 213.89 1646.88 207.43 1640.95 199.50 Z" fill="rgb(210,40,38)" stroke="rgb(210,40,38)" stroke-width="0.6" stroke-linejoin="round"/>
<path d="M 1661.94 198.01 C 1654.67 199.50 1646.14 204.84 1643.32 215.52 L 1644.44 216.41 C 1648.15 212.26 1655.04 206.47 1661.94 198.01 Z" fill="rgb(210,40,38)" stroke="rgb(210,40,38)" stroke-width="0.6" stroke-linejoin="round"/>
<path d="M 1636.87 421.72 C 1639.84 424.69 1642.43 430.26 1643.92 435.08 Q 1646.14 438.42 1648.89 435.45 C 1651.34 429.51 1655.42 419.13 1659.87 413.56 C 1655.79 414.31 1652.08 419.13 1646.88 430.26 C 1645.03 426.55 1641.32 423.21 1636.87 421.72 Z" fill="rgb(90,160,72)" stroke="rgb(90,160,72)" stroke-width="0.5" stroke-linejoin="round"/>
</svg>
</body></html>
